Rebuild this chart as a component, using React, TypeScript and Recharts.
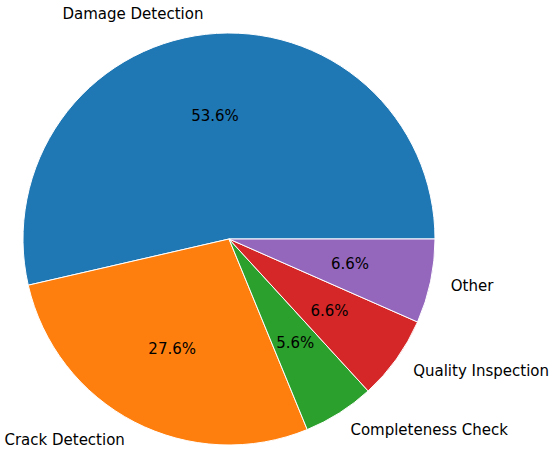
import { PieChart, Pie, Cell } from 'recharts'

const categories = [
  'Damage Detection',
  'Crack Detection',
  'Completeness Check',
  'Quality Inspection',
  'Other',
]
const shares = [53.6, 27.6, 5.6, 6.6, 6.6]
const colors = ['#1f77b4', '#ff7f0e', '#2ca02c', '#d62728', '#9467bd']

const data = categories.map((name, i) => ({ name, value: shares[i] }))

const RAD = Math.PI / 180
const FONT = '"DejaVu Sans", sans-serif'

// eslint-disable-next-line @typescript-eslint/no-explicit-any
function renderLabel(props: any) {
  const { cx, cy, midAngle, outerRadius, name, value } = props
  const cos = Math.cos(-midAngle * RAD)
  const sin = Math.sin(-midAngle * RAD)
  const lx = cx + outerRadius * 1.1 * cos
  const ly = cy + outerRadius * 1.1 * sin
  const px = cx + outerRadius * 0.6 * cos
  const py = cy + outerRadius * 0.6 * sin
  return (
    <g>
      <text
        x={lx}
        y={ly}
        textAnchor={cos >= 0 ? 'start' : 'end'}
        dominantBaseline="central"
        fontFamily={FONT}
        fontSize={15}
        fill="#000"
      >
        {name}
      </text>
      <text
        x={px}
        y={py}
        textAnchor="middle"
        dominantBaseline="central"
        fontFamily={FONT}
        fontSize={15}
        fill="#000"
      >
        {`${Number(value).toFixed(1)}%`}
      </text>
    </g>
  )
}

export default function App() {
  return (
    <div style={{ width: 550, height: 452, background: '#fff' }}>
      <style>{'body{margin:0}'}</style>
      <PieChart width={550} height={452} margin={{ top: 0, right: 0, bottom: 0, left: 0 }}>
        <Pie
          data={data}
          dataKey="value"
          nameKey="name"
          cx={229}
          cy={239}
          outerRadius={206}
          startAngle={0}
          endAngle={360}
          stroke="#fff"
          strokeWidth={1}
          label={renderLabel}
          labelLine={false}
          isAnimationActive={false}
        >
          {data.map((d, i) => (
            <Cell key={d.name} fill={colors[i]} />
          ))}
        </Pie>
      </PieChart>
    </div>
  )
}
